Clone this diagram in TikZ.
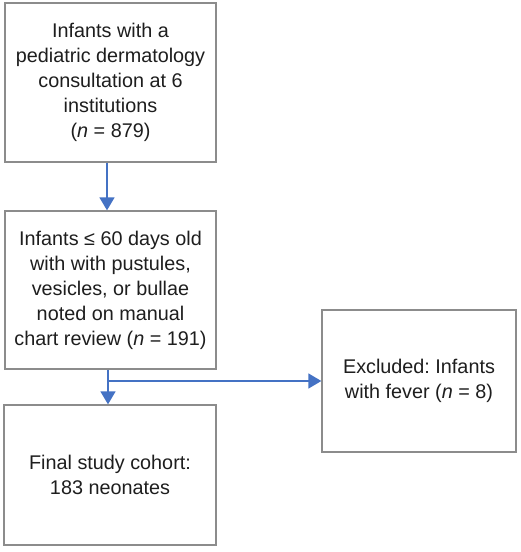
\documentclass[tikz,border=0pt]{standalone}
\usepackage{fontspec}
\setmainfont{Liberation Sans}
\usetikzlibrary{arrows.meta}
\definecolor{arrowblue}{HTML}{4472C4}
\definecolor{boxgray}{HTML}{8C8C8C}
\definecolor{txt}{HTML}{1E1E1E}
\frenchspacing
\begin{document}
\begin{tikzpicture}[x=1pt,y=-1pt,
  flowbox/.style={draw=boxgray,line width=1.3pt,fill=white,inner sep=0pt,align=center,
    text=txt,font=\fontsize{19.8}{25}\selectfont,anchor=center},
  flowarrow/.style={draw=arrowblue,line width=1.5pt,-{Triangle[width=15pt,length=13pt]}}]
\useasboundingbox (0,0) rectangle (520,552);
\node[flowbox,minimum width=211pt,minimum height=159pt] (b1) at (110.5,82.5)
  {Infants with a\\pediatric dermatology\\consultation at 6\\institutions\\(\textit{n} = 879)};
\node[flowbox,minimum width=211pt,minimum height=158pt] (b2) at (110.5,290)
  {Infants ≤ 60 days old\\with with pustules,\\vesicles, or bullae\\noted on manual\\chart review (\textit{n} = 191)};
\node[flowbox,minimum width=212pt,minimum height=140pt] (b3) at (110,475)
  {Final study cohort:\\183 neonates};
\node[flowbox,minimum width=194pt,minimum height=142pt] (ex) at (419,381)
  {Excluded: Infants\\with fever (\textit{n} = 8)};
\coordinate (t1) at (107,0);
\coordinate (j) at (108,381);
\draw[flowarrow] (b1.south -| t1) -- (b2.north -| t1);
\draw[flowarrow] (b2.south -| j) -- (b3.north -| j);
\draw[flowarrow] (j) -- (ex.west);
\end{tikzpicture}
\end{document}
